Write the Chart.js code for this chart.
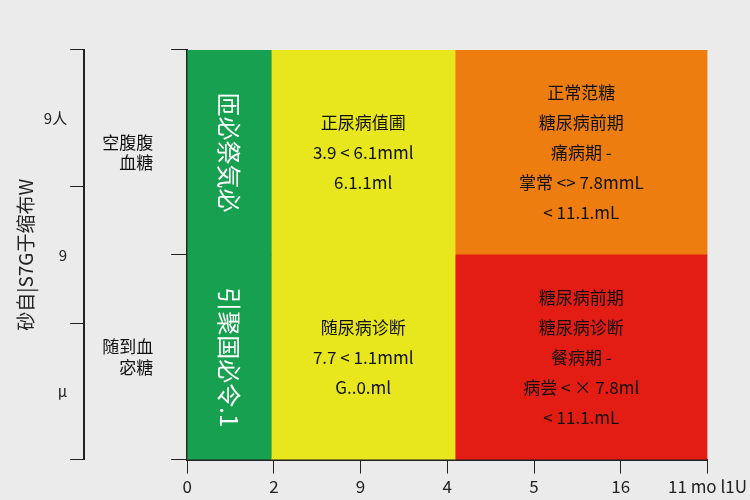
<!DOCTYPE html>
<html>
<head>
<meta charset="utf-8">
<script src="https://cdn.jsdelivr.net/npm/chart.js@4"></script>
<style>
  body { margin: 0; background: #ebebeb; }
  #wrap { width: 750px; height: 500px; }
</style>
</head>
<body>
<div id="wrap"><canvas id="zoneChart"></canvas></div>
<script>
// categories (rows) and zone widths along the x axis
var rowLabels = [['空腹腹', '血糖'], ['随到血', '宓糖']];
var greenZone = [0.97, 0.97];
var yellowZone = [2.12, 2.12];
var upperZone = [2.91, 2.91];
var xTickLabels = ['0', '2', '9', '4', '5', '16', '11 mo l1U'];
var sideTickLabels = ['μ', '9', '9人'];

// texts inside cells: [dataset][row]
var cellTexts = [
    [['匝必祭気必'], ['引聚国必令.1']],
    [['正尿病值圃', '3.9 < 6.1mml', '6.1.1ml'], ['随尿病诊断', '7.7 < 1.1mml', 'G..0.ml']],
    [['正常范糖', '糖尿病前期', '痛病期 -', '掌常 <> 7.8mmL', '< 11.1.mL'],
     ['糖尿病前期', '糖尿病诊断', '餐病期 -', '病尝 < × 7.8ml', '< 11.1.mL']]
];

var FONT = '"Noto Sans CJK SC", "DejaVu Sans", sans-serif';

// Cell text drawn at the centre of each bar element
var cellTextPlugin = {
    id: 'cellText',
    afterDatasetsDraw: function (chart) {
        var ctx = chart.ctx;
        ctx.save();
        ctx.font = '17px ' + FONT;
        ctx.textBaseline = 'middle';
        chart.data.datasets.forEach(function (ds, di) {
            chart.getDatasetMeta(di).data.forEach(function (bar, ri) {
                var p = bar.getProps(['x', 'y', 'base'], true);
                var cx = (p.x + p.base) / 2;
                var lines = cellTexts[di][ri];
                if (di === 0) {
                    ctx.save();
                    ctx.translate(cx, p.y);
                    ctx.rotate(Math.PI / 2);
                    ctx.fillStyle = '#ffffff';
                    ctx.font = '24px ' + FONT;
                    ctx.textAlign = 'center';
                    ctx.fillText(lines[0], 0, 0);
                    ctx.restore();
                    return;
                }
                ctx.fillStyle = '#111';
                ctx.textAlign = 'center';
                var lh = 30;
                var y0 = p.y - (lines.length - 1) * lh / 2;
                lines.forEach(function (t, i) {
                    ctx.fillText(t, cx, y0 + i * lh);
                });
            });
        });
        ctx.restore();
    }
};

new Chart(document.getElementById('zoneChart').getContext('2d'), {
    type: 'bar',
    data: {
        labels: rowLabels,
        datasets: [
            { data: greenZone, backgroundColor: '#17a04f' },
            { data: yellowZone, backgroundColor: '#e8e61c' },
            { data: upperZone, backgroundColor: ['#ee7d10', '#e31c14'] }
        ]
    },
    options: {
        indexAxis: 'y',
        responsive: true,
        maintainAspectRatio: false,
        animation: false,
        layout: { padding: { top: 50, right: 5, left: 10, bottom: 0 } },
        plugins: { legend: { display: false }, tooltip: { enabled: false } },
        datasets: { bar: { barPercentage: 1, categoryPercentage: 1 } },
        scales: {
            x: {
                stacked: true, min: 0, max: 6,
                grid: { drawOnChartArea: false, tickLength: 14, color: '#222' },
                border: { color: '#222', width: 2 },
                ticks: {
                    stepSize: 1, color: '#222', font: { size: 17, family: FONT },
                    callback: function (v, i) { return xTickLabels[i]; }
                }
            },
            y: {
                stacked: true,
                grid: { offset: true, drawOnChartArea: false, tickLength: 16, color: '#222' },
                border: { color: '#222', width: 2 },
                ticks: { color: '#111', font: { size: 17, family: FONT }, padding: 18 }
            },
            yl: {
                type: 'linear', position: 'left', weight: 10, min: 0, max: 2,
                afterBuildTicks: function (axis) {
                    axis.ticks = sideTickLabels.map(function (t, i) { return { value: i }; });
                },
                grid: { drawOnChartArea: false, tickLength: 14, color: '#222' },
                border: { color: '#222', width: 2 },
                ticks: {
                    color: '#222', font: { size: 15, family: FONT },
                    callback: function (v) { return sideTickLabels[v]; }
                },
                title: { display: true, text: '砂自|S7G于缩布W', color: '#222', font: { size: 19, family: FONT } }
            }
        }
    },
    plugins: [cellTextPlugin]
});
</script>
</body>
</html>
